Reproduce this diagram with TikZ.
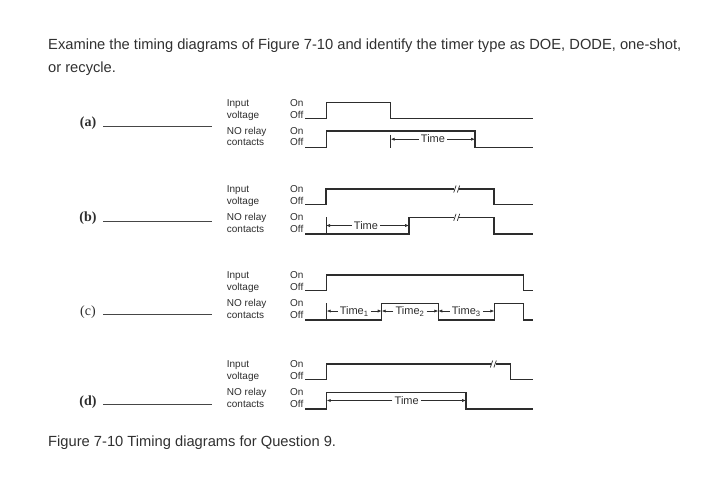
\documentclass[tikz,border=0pt]{standalone}
\usepackage{fontspec}
\setmainfont{Liberation Sans}
\newfontfamily\panelfont{Liberation Serif}
\usetikzlibrary{arrows.meta, positioning}
\definecolor{TextGray}{RGB}{48,48,48}
\definecolor{WaveGray}{RGB}{45,45,45}
\definecolor{BlankGray}{RGB}{70,70,70}

\tikzset{
  question/.style={anchor=base west, inner sep=0pt, text=TextGray, font=\fontsize{14.7}{17}\selectfont},
  sigtext/.style={anchor=west, inner sep=0pt, text height=7.2pt, text depth=0pt, text=WaveGray, font=\fontsize{10}{12}\selectfont},
  panel/.style={inner sep=0pt, text=WaveGray, font=\panelfont\fontsize{14}{16}\selectfont},
  wave/.style={draw=WaveGray, line width=1.1pt},
  timetick/.style={draw=WaveGray, line width=0.9pt},
  dimline/.style={draw=WaveGray, line width=0.7pt, -{Latex[length=4pt,width=3.2pt]}},
  dimtext/.style={inner xsep=2pt, inner ysep=0pt, text height=7.5pt, text depth=0pt, text=WaveGray, font=\fontsize{11}{12}\selectfont},
  blank/.style={draw=BlankGray, line width=0.8pt},
}

% break mark on a held level
\newcommand{\gapmark}[2]{%
  \fill[white] ({#1-2.4},{#2-4}) rectangle ({#1+2.4},{#2+4});
  \draw[timetick, line width=0.7pt] ({#1-3},{#2+3.5}) -- ({#1-0.6},{#2-3.5})
    ({#1+0.6},{#2+3.5}) -- ({#1+3},{#2-3.5});}

\begin{document}
\begin{tikzpicture}[x=1pt,y=-1pt]
  \useasboundingbox (0,0) rectangle (720,480);

  % question and caption
  \node[question] (q1) at (48,49.3) {Examine the timing diagrams of Figure 7-10 and identify the timer type as DOE, DODE, one-shot,};
  \node[question] (q2) at (48,72.7) {or recycle.};
  \node[question] (cap) at (48,446.7) {Figure 7-10 Timing diagrams for Question 9.};

  % answer blanks and row labels
  \foreach \p/\b/\ly/\lw/\lf in {a/102.7/20.6/24/\bfseries, b/189/29.3/32.7/\bfseries, c/275/36.7/39/\mdseries, d/364/37.7/40/\bfseries} {
    \begin{scope}[yshift=-\b pt]
      \node[panel] (lbl-\p) at (88,\ly) {\lf(\p)};
      \draw[blank] (103,\lw) -- (212,\lw);
      \node[sigtext] (in-\p) at (226.7,0) {Input};
      \node[sigtext] (vol-\p) at (226.7,11.7) {voltage};
      \node[sigtext] (no-\p) at (226.7,28) {NO relay};
      \node[sigtext] (con-\p) at (226.7,39.5) {contacts};
      \node[sigtext] (on1-\p) at (290,0) {On};
      \node[sigtext] (off1-\p) at (290,11.7) {Off};
      \node[sigtext] (on2-\p) at (290,28) {On};
      \node[sigtext] (off2-\p) at (290,39.5) {Off};
    \end{scope}
  }

  % (a)
  \begin{scope}[yshift=-102.7pt]
    \draw[wave] (305,15.5) -- (326.7,15.5) -- (326.7,0) -- (390.7,0) -- (390.7,15.5) -- (533,15.5);
    \draw[wave] (305,45) -- (326.7,45) -- (326.7,28.3) -- (475,28.3) -- (475,45) -- (533,45);
    \draw[timetick] (390.7,32) -- (390.7,45);
    \coordinate (ta1) at (390.7,36.5);
    \coordinate (ta2) at (475,36.5);
    \node[dimtext] (time-a) at (433,36.5) {Time};
    \draw[dimline] (time-a) -- (ta1);
    \draw[dimline] (time-a) -- (ta2);
  \end{scope}

  % (b)
  \begin{scope}[yshift=-189pt]
    \draw[wave] (305,15.5) -- (326,15.5) -- (326,0) -- (494,0) -- (494,15.5) -- (533,15.5);
    \draw[wave] (305,45) -- (409,45) -- (409,28.3) -- (494,28.3) -- (494,45) -- (533,45);
    \draw[timetick] (326,28.3) -- (326,45);
    \gapmark{456.7}{0}
    \gapmark{456.7}{28.3}
    \coordinate (tb1) at (326,36.5);
    \coordinate (tb2) at (409,36.5);
    \node[dimtext] (time-b) at (366,36.5) {Time};
    \draw[dimline] (time-b) -- (tb1);
    \draw[dimline] (time-b) -- (tb2);
  \end{scope}

  % (c)
  \begin{scope}[yshift=-275pt]
    \draw[wave] (305,15.5) -- (326.7,15.5) -- (326.7,0) -- (523.3,0) -- (523.3,15.5) -- (533,15.5);
    \draw[wave] (305,45) -- (381.7,45) -- (381.7,28.3) -- (438.3,28.3) -- (438.3,45) -- (494.3,45)
      -- (494.3,28.3) -- (523.3,28.3) -- (523.3,45) -- (533,45);
    \draw[timetick] (326.7,28.3) -- (326.7,45);
    \coordinate (tc0) at (326.7,36);
    \coordinate (tc1) at (381.7,36);
    \coordinate (tc2) at (438.3,36);
    \coordinate (tc3) at (494.3,36);
    \node[dimtext] (time-c1) at (354.2,36) {Time\textsubscript{1}};
    \node[dimtext] (time-c2) at (410,36) {Time\textsubscript{2}};
    \node[dimtext] (time-c3) at (466.3,36) {Time\textsubscript{3}};
    \draw[dimline] (time-c1) -- (tc0);
    \draw[dimline] (time-c1) -- (tc1);
    \draw[dimline] (time-c2) -- (tc1);
    \draw[dimline] (time-c2) -- (tc2);
    \draw[dimline] (time-c3) -- (tc2);
    \draw[dimline] (time-c3) -- (tc3);
  \end{scope}

  % (d)
  \begin{scope}[yshift=-364pt]
    \draw[wave] (305,15.5) -- (326.7,15.5) -- (326.7,0) -- (510.7,0) -- (510.7,15.5) -- (533,15.5);
    \draw[wave] (305,45) -- (326.7,45) -- (326.7,28.3) -- (466,28.3) -- (466,45) -- (533,45);
    \gapmark{493.3}{0}
    \coordinate (td1) at (326.7,36.5);
    \coordinate (td2) at (466,36.5);
    \node[dimtext] (time-d) at (406.7,36.5) {Time};
    \draw[dimline] (time-d) -- (td1);
    \draw[dimline] (time-d) -- (td2);
  \end{scope}
\end{tikzpicture}
\end{document}
